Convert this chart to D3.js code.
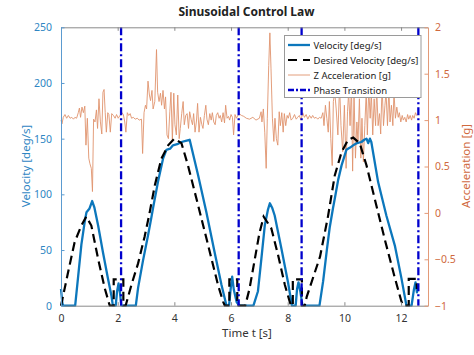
<!DOCTYPE html>
<html><head><meta charset="utf-8">
<script src="https://cdn.jsdelivr.net/npm/d3@7"></script>
<style>body{margin:0;background:#fff}svg{display:block}text{font-family:"Noto Sans",sans-serif}</style>
</head><body><svg id="c" width="474" height="355"></svg>
<script>
const title = "Sinusoidal Control Law";
const xLabel = "Time t [s]";
const yLeftLabel = "Velocity [deg/s]";
const yRightLabel = "Acceleration [g]";
const xTicks = [0,2,4,6,8,10,12];
const leftTicks = [0,50,100,150,200,250];
const rightTicks = [-1,-0.5,0,0.5,1,1.5,2];
const legendLabels = ["Velocity [deg/s]","Desired Velocity [deg/s]","Z Acceleration [g]","Phase Transition"];
const phaseTimes = [2.12, 6.27, 8.49, 12.61];

const velocity = [[0,15],[0.05,2],[0.08,0],[0.5,0],[0.6,25],[0.72,55],[0.84,76],[0.9,84],[1.0,87],[1.1,94],[1.18,88],[1.31,72],[1.48,48],[1.66,24],[1.78,9],[1.83,0],[1.93,0],[1.98,13],[2.03,20],[2.08,12],[2.13,0],[2.64,0],[2.72,16],[2.89,40],[3.07,63],[3.18,78],[3.25,88],[3.42,111],[3.6,132],[3.72,140],[3.85,141],[3.95,144],[4.1,145],[4.25,147],[4.4,148],[4.54,149],[4.84,117],[5.13,84],[5.42,48],[5.66,19],[5.84,0],[5.93,0],[5.99,16],[6.04,26],[6.1,14],[6.2,3],[6.3,0],[6.79,0],[6.95,13],[7.07,42],[7.19,72],[7.3,86],[7.37,92],[7.45,88],[7.54,81],[7.78,51],[8.01,21],[8.15,0],[8.28,0],[8.33,15],[8.38,21],[8.45,12],[8.52,0],[9.12,0],[9.25,22],[9.38,50],[9.48,70],[9.6,88],[9.66,96],[9.78,113],[9.9,126],[10.07,140],[10.2,142],[10.31,144],[10.45,146],[10.6,147],[10.7,149],[10.78,150],[10.84,146],[10.9,150],[10.95,147],[11.19,111],[11.48,81],[11.78,54],[12.01,25],[12.19,0],[12.37,0],[12.45,14],[12.51,21],[12.56,12],[12.6,18]];

const desired = [[0,0],[0.25,30],[0.48,57],[0.72,72],[0.89,80],[1.07,72],[1.31,42],[1.54,16],[1.72,0],[1.86,0],[1.86,23.7],[2.2,23.7],[2.2,0],[2.28,0],[2.5,20],[2.72,38],[2.95,62],[3.1,80],[3.31,108],[3.54,132],[3.78,144],[4.0,150],[4.25,146],[4.48,126],[4.84,90],[5.19,54.5],[5.54,18.6],[5.72,3.6],[5.78,0],[5.94,0],[5.94,23.7],[6.22,23.7],[6.22,0],[6.5,0],[6.65,15],[6.84,42],[7.0,65],[7.15,80],[7.42,69.5],[7.66,45.5],[7.9,18.6],[8.07,3.6],[8.12,0],[8.18,0],[8.18,23.7],[8.5,23.7],[8.5,0],[8.6,0],[8.67,8],[9.14,44],[9.42,80],[9.66,117],[9.9,138],[10.13,149],[10.31,151],[10.54,146],[10.78,126],[11.07,96],[11.42,60],[11.78,25],[12.01,4],[12.08,0],[12.27,0],[12.27,24],[12.54,24],[12.56,15]];

const accel = [[0,1.00],[0.035,0.96],[0.08,1.03],[0.14,1.06],[0.2,1.02],[0.26,1.05],[0.32,1.02],[0.38,1.03],[0.44,1.01],[0.49,1.03],[0.55,1.02],[0.61,1.08],[0.65,1.13],[0.69,1.03],[0.74,1.14],[0.79,1.08],[0.84,1.15],[0.88,0.73],[0.93,1.02],[0.98,0.59],[1.02,0.53],[1.07,0.48],[1.11,0.23],[1.15,1.01],[1.2,0.98],[1.25,1.11],[1.29,0.91],[1.34,1.23],[1.39,0.98],[1.44,0.85],[1.48,1.30],[1.52,1.33],[1.56,1.08],[1.6,0.87],[1.65,1.08],[1.69,1.06],[1.74,0.87],[1.79,1.07],[1.85,1.05],[1.91,1.02],[1.96,1.06],[2.02,1.02],[2.08,1.05],[2.15,1.08],[2.2,1.06],[2.25,0.98],[2.29,0.87],[2.34,1.08],[2.39,1.05],[2.44,1.07],[2.49,1.02],[2.55,1.03],[2.62,1.01],[2.69,1.02],[2.76,1.00],[2.84,1.01],[2.88,0.64],[2.93,1.08],[2.98,1.16],[3.02,1.12],[3.07,1.42],[3.12,1.27],[3.16,1.21],[3.21,1.32],
[3.25,1.12],[3.31,1.20],[3.37,1.76],[3.41,1.30],[3.46,1.20],[3.51,1.29],[3.55,1.16],[3.6,1.32],[3.65,1.12],[3.69,1.25],[3.74,0.84],[3.79,0.80],[3.84,1.09],[3.88,1.30],[3.93,0.78],[3.98,1.29],[4.02,0.95],[4.07,0.84],[4.12,1.27],[4.17,0.80],[4.21,0.91],[4.26,1.07],[4.31,1.20],[4.35,0.95],[4.4,1.05],[4.45,1.07],[4.5,0.91],[4.54,1.09],[4.59,1.01],[4.64,0.95],[4.68,1.07],[4.73,0.87],[4.78,0.99],[4.82,1.18],[4.87,0.87],[4.92,1.03],[4.97,0.95],[5.01,0.91],[5.06,1.05],[5.11,1.16],[5.15,1.01],[5.2,0.95],[5.25,1.07],[5.3,1.0],[5.34,1.08],[5.39,0.98],[5.44,0.95],[5.48,1.05],[5.53,1.08],[5.58,1.02],[5.62,1.05],[5.67,0.98],[5.72,1.08],[5.77,0.97],[5.81,1.16],[5.86,1.02],[5.91,1.04],[5.95,1.0],[6.0,1.06],[6.05,1.03],[6.09,0.84],[6.14,1.06],[6.19,1.02],[6.24,1.05],[6.28,1.07],[6.37,1.05],[6.45,1.04],[6.54,1.02],
[6.65,1.01],[6.77,1.03],[6.88,1.0],[7.0,1.02],[7.06,1.09],[7.09,0.98],[7.14,1.12],[7.19,0.87],[7.24,0.48],[7.28,1.02],[7.33,1.59],[7.37,1.94],[7.41,1.56],[7.46,1.02],[7.51,0.77],[7.55,1.02],[7.6,0.80],[7.65,0.73],[7.7,1.09],[7.74,0.94],[7.79,1.08],[7.84,0.87],[7.88,1.07],[7.93,0.94],[7.98,1.05],[8.02,1.02],[8.07,1.08],[8.12,1.0],[8.18,1.02],[8.24,1.06],[8.3,1.01],[8.35,1.03],[8.41,1.05],[8.47,1.0],[8.53,1.08],[8.59,1.03],[8.65,1.06],[8.71,1.01],[8.77,1.05],[8.83,1.02],[8.88,1.05],[8.94,1.02],[9.0,1.03],[9.06,1.01],[9.12,1.03],[9.18,1.02],[9.24,1.08],[9.28,0.94],[9.33,1.16],[9.38,1.02],[9.43,0.87],[9.47,1.2],[9.52,0.8],[9.57,0.51],[9.61,1.2],[9.66,1.3],
[9.71,1.12],[9.77,0.84],[9.83,1.38],[9.88,0.94],[9.94,0.66],[10.0,1.16],[10.06,0.48],[10.11,1.09],[10.15,1.3],[10.2,0.94],[10.25,1.38],[10.29,0.45],[10.34,1.3],[10.39,0.59],[10.44,0.98],[10.48,0.77],[10.53,1.23],[10.58,0.59],[10.62,1.02],[10.67,0.55],[10.72,0.94],[10.77,1.3],[10.81,0.84],[10.86,1.34],[10.91,1.02],[10.95,1.3],[11.0,0.84],[11.05,1.23],[11.1,0.94],[11.14,1.34],[11.19,0.94],[11.24,1.07],[11.28,0.85],[11.33,1.38],[11.38,0.94],[11.43,1.16],[11.47,1.3],[11.52,0.94],[11.57,1.34],[11.61,0.98],[11.66,1.16],[11.71,0.94],[11.75,1.3],[11.8,1.02],[11.85,1.14],[11.9,1.03],[11.94,1.08],[11.99,0.98],[12.04,1.05],[12.08,1.0],[12.13,1.03],[12.18,0.98],[12.23,1.06],[12.27,1.01],[12.32,1.05],[12.37,1.0],[12.41,1.05],[12.46,1.02],[12.51,1.08],[12.55,1.05],[12.59,1.06]];

const svg = d3.select("#c");
const L = 61, R = 428, T = 27.3, B = 305.7;
const x = d3.scaleLinear().domain([0, 12.95]).range([L, R]);
const yL = d3.scaleLinear().domain([0, 250]).range([B, T]);
const yR = d3.scaleLinear().domain([-1, 2]).range([B, T]);

const blue = "#0C77BC", orange = "#D95319";

// lines
const lineR = d3.line().x(d => x(d[0])).y(d => yR(d[1]));
const lineL = d3.line().x(d => x(d[0])).y(d => yL(d[1]));
svg.append("path").attr("d", lineR(accel)).attr("fill","none").attr("stroke","#E0936D").attr("stroke-width",0.9);
svg.append("path").attr("d", lineL(velocity)).attr("fill","none").attr("stroke",blue).attr("stroke-width",2.3).attr("stroke-linejoin","round");
svg.append("path").attr("d", lineL(desired)).attr("fill","none").attr("stroke","#000").attr("stroke-width",2.2).attr("stroke-dasharray","9,5");
svg.selectAll(".ph").data(phaseTimes).enter().append("line")
  .attr("x1", d => x(d)).attr("x2", d => x(d)).attr("y1", T).attr("y2", B)
  .attr("stroke","#0000CD").attr("stroke-width",2.3).attr("stroke-dasharray","8,3,2,3");

// axes
const axB = d3.axisBottom(x).tickValues(xTicks).tickSizeInner(-3.5).tickSizeOuter(0).tickPadding(9);
const gB = svg.append("g").attr("transform",`translate(0,${B})`).call(axB);
const axTop = d3.axisTop(x).tickValues(xTicks).tickSizeInner(-3.5).tickSizeOuter(0).tickFormat("");
const gT = svg.append("g").attr("transform",`translate(0,${T})`).call(axTop);
[gB,gT].forEach(g => { g.select(".domain").attr("stroke","#8a8a8a"); g.selectAll(".tick line").attr("stroke","#8a8a8a"); });
gB.selectAll("text").attr("fill","#333").style("font-size","10.5px").style("font-family","Noto Sans");

const axL = d3.axisLeft(yL).tickValues(leftTicks).tickSizeInner(-3.5).tickSizeOuter(0).tickPadding(9);
const gL = svg.append("g").attr("transform",`translate(${L},0)`).call(axL);
gL.select(".domain").attr("stroke","#5b9bd0");
gL.selectAll(".tick line").attr("stroke","#5b9bd0");
gL.selectAll("text").attr("fill","#2f86c3").style("font-size","10.5px").style("font-family","Noto Sans");

const fmtR = d => d < 0 ? "\u2212" + Math.abs(d) : String(d);
const axR = d3.axisRight(yR).tickValues(rightTicks).tickSizeInner(-3.5).tickSizeOuter(0).tickPadding(7).tickFormat(fmtR);
const gR = svg.append("g").attr("transform",`translate(${R},0)`).call(axR);
gR.select(".domain").attr("stroke","#e39a78");
gR.selectAll(".tick line").attr("stroke","#e39a78");
gR.selectAll("text").attr("fill","#d0693e").style("font-size","10.5px").style("font-family","Noto Sans");

// labels
svg.append("text").attr("x", 246.5).attr("y", 15.5).attr("text-anchor","middle")
  .style("font-weight","bold").style("font-size","12px").attr("fill","#222").text(title);
svg.append("text").attr("x", 247).attr("y", 337).attr("text-anchor","middle")
  .style("font-size","11.5px").attr("fill","#333").text(xLabel);
svg.append("text").attr("transform","translate(30,166) rotate(-90)").attr("text-anchor","middle")
  .style("font-size","11.5px").attr("fill","#2f86c3").text(yLeftLabel);
svg.append("text").attr("transform","translate(470,166) rotate(-90)").attr("text-anchor","middle")
  .style("font-size","11.5px").attr("fill","#d0693e").text(yRightLabel);

// legend
const lg = svg.append("g");
lg.append("rect").attr("x",284.5).attr("y",35.5).attr("width",136.5).attr("height",62).attr("fill","#fff").attr("stroke","#9a9a9a").attr("stroke-width",1);
const rows = [45, 60, 75, 90];
const styles = [
  {c: blue, w: 2.3, d: null},
  {c: "#000", w: 2.2, d: "9,6"},
  {c: "#E0936D", w: 0.9, d: null},
  {c: "#0000CD", w: 2.3, d: "6,2,2,2"}
];
legendLabels.forEach((lab, i) => {
  lg.append("line").attr("x1",288).attr("x2",310).attr("y1",rows[i]).attr("y2",rows[i])
    .attr("stroke",styles[i].c).attr("stroke-width",styles[i].w).attr("stroke-dasharray",styles[i].d);
  lg.append("text").attr("x",313.5).attr("y",rows[i]+3.5).style("font-size","9.5px").attr("fill","#222").text(lab);
});
</script></body></html>
